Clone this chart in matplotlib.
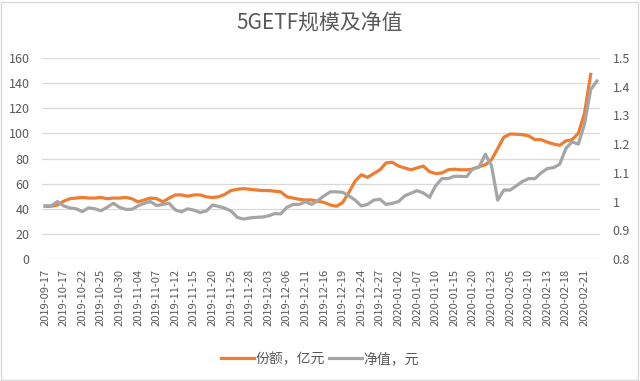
import matplotlib
matplotlib.use("Agg")
import matplotlib.pyplot as plt
from matplotlib.patches import Rectangle
import numpy as np

plt.rcParams['font.family'] = ['Noto Sans CJK SC', 'DejaVu Sans']

# tick labels: every third trading day
tick_labels = ['2019-09-17', '2019-10-17', '2019-10-22', '2019-10-25', '2019-10-30',
               '2019-11-04', '2019-11-07', '2019-11-12', '2019-11-15', '2019-11-20',
               '2019-11-25', '2019-11-28', '2019-12-03', '2019-12-06', '2019-12-11',
               '2019-12-16', '2019-12-19', '2019-12-24', '2019-12-27', '2020-01-02',
               '2020-01-07', '2020-01-10', '2020-01-15', '2020-01-20', '2020-01-23',
               '2020-02-05', '2020-02-10', '2020-02-13', '2020-02-18', '2020-02-21']

# 份额，亿元 (left axis)
share = [42, 42, 43, 46, 48, 48.5, 49, 48.5, 48.5, 49,
         48, 48.5, 48.5, 49, 48, 45.5, 47, 48.5, 48, 45.5,
         48.5, 51, 51, 50, 51, 51, 49.5, 49, 49.5, 51.5,
         54.5, 55.5, 56, 55.5, 55, 54.5, 54.5, 54, 53.5, 49.5,
         48.5, 47.5, 47, 47, 46, 45, 43, 42, 45, 53,
         62, 67, 65, 68, 71, 76.5, 77, 74, 72.5, 71,
         72.5, 74, 69.5, 68, 68.5, 71, 71.5, 71, 71, 71.5,
         73.5, 75, 79, 88, 97, 99.5, 99.3, 99, 98, 95,
         95, 93, 91.5, 90.5, 94, 95, 100, 116, 147]

# 净值，元 (right axis)
nav = [0.985, 0.985, 1.0, 0.985, 0.978, 0.975, 0.965, 0.978, 0.975, 0.968,
       0.98, 0.994, 0.98, 0.973, 0.973, 0.985, 0.994, 1.0, 0.986, 0.99,
       0.994, 0.971, 0.964, 0.975, 0.97, 0.962, 0.967, 0.988, 0.983, 0.977,
       0.967, 0.945, 0.939, 0.943, 0.945, 0.946, 0.95, 0.958, 0.957, 0.98,
       0.99, 0.99, 1.0, 0.99, 1.004, 1.02, 1.034, 1.034, 1.032, 1.02,
       1.005, 0.985, 0.99, 1.005, 1.008, 0.99, 0.994, 1.0, 1.02, 1.029,
       1.038, 1.03, 1.015, 1.055, 1.08, 1.08, 1.088, 1.088, 1.087, 1.115,
       1.12, 1.165, 1.125, 1.005, 1.04, 1.04, 1.055, 1.07, 1.08, 1.08,
       1.1, 1.115, 1.118, 1.13, 1.185, 1.208, 1.2, 1.27, 1.39, 1.42]

text_color = '#595959'
grid_color = '#d9d9d9'

fig = plt.figure(figsize=(6.4, 3.81), dpi=100)
ax = fig.add_axes([42 / 640, 1 - 259 / 381, 558 / 640, 201 / 381])
ax2 = ax.twinx()

x_share = np.arange(len(share))
x_nav = np.arange(len(nav))

l1, = ax.plot(x_share, share, color='#ED7D31', lw=2.3, solid_joinstyle='round', zorder=3)
l2, = ax2.plot(x_nav, nav, color='#A5A5A5', lw=2.3, solid_joinstyle='round', zorder=2)

ax.set_xlim(-0.5, len(nav) - 0.5)
ax.set_ylim(0, 160)
ax.set_yticks(np.arange(0, 161, 20))
ax2.set_ylim(0.8, 1.5)
ax2.set_yticks(np.arange(0.8, 1.51, 0.1))
ax2.yaxis.set_major_formatter(plt.FuncFormatter(lambda v, p: '%g' % round(v, 1)))

ax.set_xticks(np.arange(0, len(nav), 3))
ax.set_xticklabels(tick_labels, rotation=90, color=text_color)

ax.grid(axis='y', color=grid_color, lw=0.9)
ax.set_axisbelow(True)
for a in (ax, ax2):
    for s in a.spines.values():
        s.set_visible(False)
    a.tick_params(length=0, labelsize=9, labelcolor=text_color)
ax.tick_params(axis='y', pad=9)
ax.tick_params(axis='x', pad=7, labelsize=8)
ax2.tick_params(axis='y', pad=9)

fig.text(0.5, 1 - 24 / 381, '5GETF规模及净值', ha='center', va='center',
         fontsize=15, color=text_color)

fig.legend([l1, l2], ['份额，亿元', '净值，元'], loc='center',
           bbox_to_anchor=(0.5, 1 - 359 / 381), ncol=2, frameon=False,
           fontsize=10, labelcolor=text_color, handlelength=2.4,
           handletextpad=0.1, columnspacing=0.3)

fig.patches.append(Rectangle((0.002, 0.003), 0.995, 0.993, transform=fig.transFigure,
                             fill=False, edgecolor=grid_color, lw=1))

fig.savefig('out.png', dpi=100)
